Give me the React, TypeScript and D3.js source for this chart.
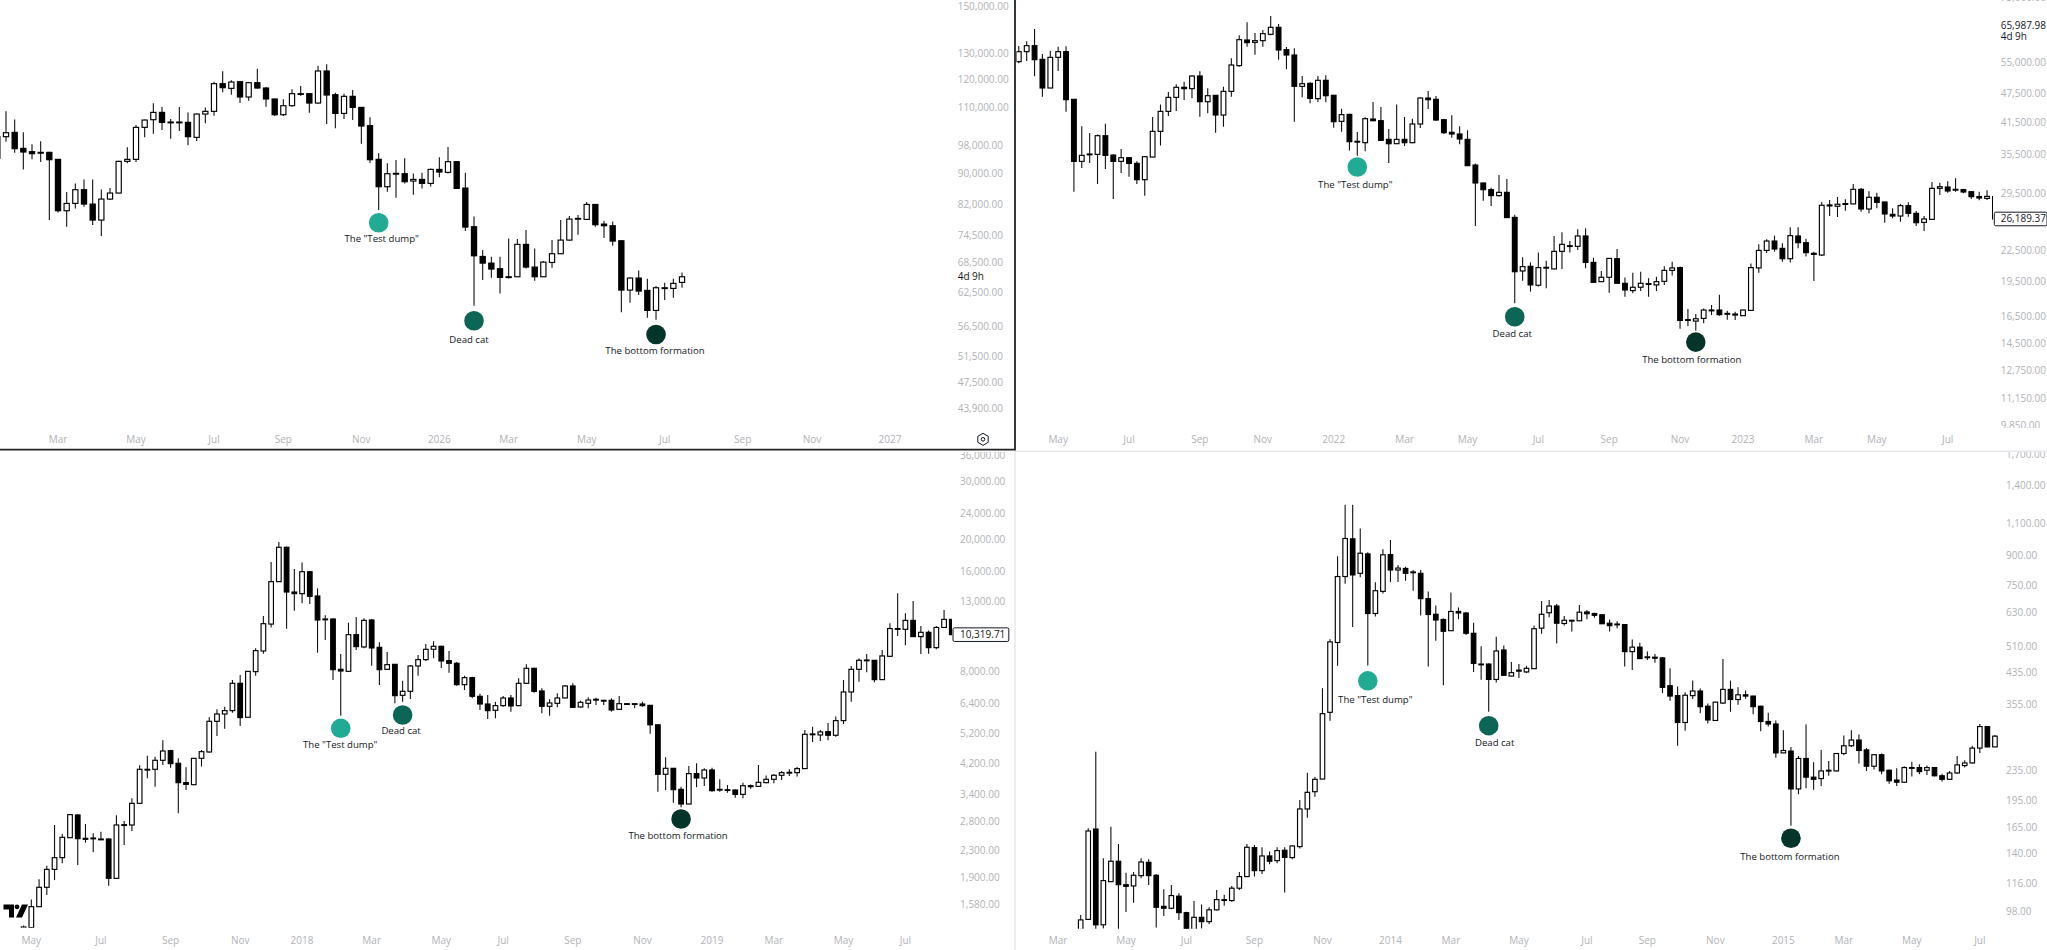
import React, { useEffect, useRef } from 'react';
import * as d3 from 'd3';

// every candle is [open, high, low, close]
type Candle = [number, number, number, number];

const candles2025: Candle[] = [
  [94300,101250,94000,100740],[100740,108840,99210,101970],[102080,106200,95930,97120],[97210,102080,91160,96130],
  [96230,98410,94000,95640],[96030,99320,93240,95930],[96030,96230,78090,93900],[94000,94100,79940,80350],
  [80350,85080,76520,82170],[82170,87350,80920,85680],[85680,88420,81340,82000],[82000,88420,76910,78090],
  [78090,85760,74360,83260],[83260,86110,83010,84810],[84810,93620,84720,93430],[93430,97510,92860,94000],
  [94000,104390,93240,103650],[103650,106200,100530,105990],[106100,111530,101670,108500],[108500,110290,102810,105240],
  [105350,106310,100130,105240],[105350,110290,102500,105240],[105240,108500,98110,100740],[100530,108170,99420,107950],
  [107950,110170,104920,108840],[108840,119160,107400,118440],[118440,122990,115340,117000],[116760,119650,114530,119040],
  [119160,119400,111640,113720],[113720,119040,112440,118800],[118800,124000,116640,116880],[116880,117240,110400,113030],
  [113030,113150,107300,107730],[107730,112900,107300,110740],[110740,116410,110400,114880],[114880,117600,114180,114650],
  [114880,114880,108390,111640],[111640,125130,111420,123120],[123120,125640,104710,114410],[114530,115230,103330,108170],
  [108170,114880,106310,113950],[113950,116170,105990,110170],[110170,110290,98610,104070],[104180,106860,92950,93900],
  [94000,95740,80510,86460],[86460,92860,85160,89970],[89970,93810,83610,90060],[89970,94290,87350,87800],
  [87970,90060,84380,88420],[88420,90240,86020,87350],[87350,91440,86550,91160],[91160,94580,88970,90430],
  [90340,97610,90060,93330],[93330,93430,85850,86020],[86110,90240,75510,76440],[76520,78970,60110,70020],
  [69880,71250,65020,68470],[68470,69810,65480,67240],[67310,69810,62420,65550],[65680,73830,65350,65550],
  [65680,73680,65610,72500],[72500,75740,67380,67650],[67650,71610,64890,65680],[65680,68890,65610,68680],
  [68610,73460,67510,70460],[70460,78090,70390,73460],[73460,79050,73310,78330],[78330,79300,74670,78490],
  [78250,82500,78090,81910],[81910,82000,76520,76990],[77140,77930,73910,76750],[76750,77780,72200,73240],
  [73310,73460,58950,63060],[63060,65550,60660,65420],[65420,66960,62100,62870],[63000,65280,57950,59260],
  [59260,63830,57600,63510],[63440,64490,61160,63510],[63380,65280,61600,64360],[64560,66550,63510,65680],
];

const candles2021: Candle[] = [
  [55260,59530,54830,57950],[57950,60860,55440,59620],[59620,64540,51550,55790],[55880,57310,46800,48770],
  [48770,58230,48690,56410],[56410,59340,52870,57950],[57950,59430,43580,46140],[46220,46290,29810,34430],
  [34430,40650,33360,35420],[35530,39390,34160,35650],[35590,39130,30920,38890],[38890,41170,33200,35420],
  [35470,35590,28800,34430],[34430,36500,32570,35030],[35030,35090,32010,34100],[34100,34430,30920,31560],
  [31560,35310,29260,35200],[35140,42490,35090,39700],[39700,45120,37140,43650],[43650,47850,42700,46650],
  [46650,49630,43720,48930],[48930,50260,46070,48620],[48620,51800,46430,51630],[51630,52780,42560,45700],
  [45700,48700,43240,47020],[47100,47170,39450,42900],[42900,49080,40590,48000],[48000,56140,46800,54400],
  [54230,62620,53970,61340],[61250,66600,59340,60480],[60570,63320,57130,61060],[61060,64230,59340,63120],
  [62920,68630,62620,65050],[65050,66080,55790,58410],[58500,59250,53290,57040],[57040,58870,41560,49160],
  [49160,51630,46650,49780],[49860,50100,45340,46430],[46360,51630,45630,50580],[50580,51800,45560,47020],
  [47100,47250,40400,41560],[41630,44210,39640,42970],[43030,43170,36270,37800],[37800,39580,35370,37860],
  [37620,42430,36100,42160],[42090,45630,41630,41760],[41760,44560,37980,38040],[38220,40140,34160,37440],
  [37440,45120,37380,38220],[38220,42490,37030,37620],[37620,42160,37500,41110],[41110,46650,40340,46500],
  [46500,48080,44140,46140],[46220,46950,41760,41890],[41960,42030,39200,39450],[39520,42830,38530,39200],
  [39200,40650,37320,38280],[38220,39890,33670,33730],[33830,34100,25330,31070],[31070,31120,28570,30100],
  [30100,30380,27860,29260],[29260,32260,29120,29720],[29720,31660,26310,26360],[26390,26730,17550,20390],
  [20460,21830,19530,20890],[20920,21310,18550,19150],[19120,22350,19000,20790],[20760,21480,18850,20820],
  [20660,24160,20630,22460],[22460,24590,20660,23220],[23030,23590,22350,23070],[23000,24940,22600,24160],
  [24160,25050,20720,21310],[21310,21790,19360,19390],[19450,20460,19420,19860],[19860,21720,18460,21720],
  [21690,22710,19270,19300],[19300,19830,18110,18700],[18640,20300,18400,18940],[18940,20390,18610,19300],
  [19210,19760,18110,19270],[19150,19920,18610,19450],[19480,20920,19150,20520],[20520,21380,20030,20760],
  [20790,20890,15560,16180],[16240,17080,15740,16180],[16130,16680,15410,16310],[16340,17130,15960,17000],
  [16950,17410,16600,17000],[17000,18280,16550,16630],[16730,16950,16240,16680],[16680,16870,16210,16600],
  [16550,17050,16520,17000],[16970,21210,16950,20790],[20760,23220,20300,22560],[22560,23780,22280,23590],
  [23590,24200,22420,22710],[22780,23330,21380,21690],[21690,25170,21310,24200],[24160,25170,22780,23400],
  [23400,23850,21930,22320],[22250,22420,19510,22140],[22070,28390,21970,27950],[27860,28660,26560,28000],
  [27820,29070,26440,28090],[28090,28750,27240,28170],[28130,30920,28090,30150],[30150,30330,27110,27460],
  [27460,29860,26900,29030],[29030,29670,27550,28340],[28390,28430,25730,26820],[26770,27550,26270,26560],
  [26560,28130,25850,27900],[27900,28340,26480,26900],[26900,27200,25330,25730],[25770,26560,24740,26190],
  [26140,31210,26100,30290],[30290,31120,29350,30530],[30480,31310,29670,29910],[30150,31760,29810,30050],
  [30100,30240,29580,29770],[29810,29910,28800,29120],[29120,29810,28620,28930],[28880,30000,28660,29160],
  [29120,29120,26189.37,26189.37],
];

const candles2017: Candle[] = [
  [1200,1360,1180,1346],[1340,1631,1300,1551],[1551,1876,1551,1775],[1775,2063,1682,2011],
  [2011,2740,1867,2182],[2182,2573,2098,2514],[2508,2945,2508,2945],[2938,2951,2073,2491],
  [2497,2759,2422,2480],[2497,2585,2264,2502],[2485,2615,2468,2480],[2485,2497,1795,1889],
  [1889,2931,1885,2740],[2740,2818,2383,2746],[2740,3299,2628,3186],[3186,4153,3179,4039],
  [4030,4442,3794,4039],[4039,4411,3578,4300],[4300,4943,4163,4588],[4599,4631,4086,4201],
  [4211,4360,2972,3680],[3680,4096,3496,3636],[3628,4360,3620,4360],[4360,4620,4115,4567],
  [4557,5803,4536,5643],[5643,6134,5095,5938],[5938,6249,5362,6078],[6078,7525,5994,7353],
  [7353,7792,5463,5790],[5803,8012,5790,7993],[7975,9384,7756,9232],[9211,11750,9041,11140],
  [11110,17120,10840,14930],[14930,19680,14890,18970],[18970,19060,10760,13890],[13890,16300,12190,13730],
  [13730,17070,12840,16000],[16000,16090,12780,13480],[13510,14250,9104,11430],[11460,11810,9945,11510],
  [11510,11560,7525,8087],[8106,9020,5870,8011],[7993,11220,7975,10320],[10320,11670,9275,9494],
  [9472,11560,9384,11400],[11430,11510,8315,9406],[9449,9785,7268,8087],[8106,9147,8068,8374],
  [8393,8413,6396,6747],[6763,7490,6471,6954],[6954,8355,6592,8297],[8297,8958,7756,8671],
  [8671,9672,8591,9319],[9319,9854,8752,9516],[9516,9560,8182,8591],[8611,9211,7920,8452],
  [8452,8532,7235,7285],[7285,7756,7019,7649],[7649,7702,6623,6716],[6716,6842,6106,6366],
  [6366,6779,5733,6078],[6092,6471,5762,6293],[6293,6732,6249,6638],[6638,6779,6036,6278],
  [6293,7613,6293,7353],[7353,8393,7353,8163],[8163,8201,6890,6954],[6970,7100,5966,6264],
  [6264,6577,5870,6411],[6396,6858,6220,6638],[6638,7268,6623,7218],[7218,7353,6191,6220],
  [6235,6516,6205,6441],[6396,6669,6177,6546],[6577,6654,6322,6546],[6531,6546,6322,6516],
  [6531,6623,6036,6106],[6134,6732,6106,6381],[6366,6396,6322,6381],[6366,6396,6177,6381],
  [6366,6471,6249,6293],[6307,6322,5178,5507],[5507,5519,3456,3901],[3901,4389,3496,4067],
  [4067,4067,3201,3504],[3512,3578,3098,3171],[3171,4134,3164,3919],[3919,4211,3562,3802],
  [3802,4067,3595,4020],[4020,4086,3456,3480],[3504,3767,3456,3512],[3496,3620,3432,3504],
  [3496,3512,3314,3392],[3392,3680,3299,3603],[3603,3636,3529,3578],[3586,4163,3578,3688],
  [3680,3865,3662,3767],[3767,3910,3662,3874],[3874,3992,3750,3946],[3946,4039,3856,3955],
  [3946,4105,3838,4058],[4058,5312,4049,5155],[5143,5437,4885,5167],[5131,5312,4920,5239],
  [5250,5578,4943,5119],[5119,5830,5071,5669],[5669,7525,5539,6922],[6922,8297,6471,8106],
  [8106,8752,7439,8631],[8631,9020,7938,8651],[8631,8651,7405,7543],[7543,9275,7525,8897],
  [8875,11170,8854,10770],[10770,13760,10230,10710],[10710,11970,9581,11400],[11400,13050,10150,10180],
  [10180,10970,9020,10490],[10490,10630,9041,9427],[9427,10970,9319,10850],[10850,12250,10840,11480],
  [11480,11480,10319.71,10319.71],
];

const candles2013: Candle[] = [
  [80,95.6,78,92.7],[93,164.2,92.7,161.5],[163.5,265,87.1,89.9],[89.9,136.2,87.8,118.5],
  [117.7,165.9,117.7,133.7],[133.7,149,87.1,115.5],[115.5,124.5,97.4,114.3],[114.6,125,103.2,122.5],
  [122.2,136.2,120.2,133.1],[132.8,135.4,115.3,122.2],[122.5,123.5,88.4,100.3],[100.9,112.3,95,99.7],
  [99.7,115.3,99.1,107.9],[107.5,109.5,92.7,97],[97,97.6,86.2,87.1],[87.1,104.3,86.2,94.2],
  [94.2,102,87.8,91.7],[91.7,100.3,90.2,98.7],[98.7,111.8,98.3,105.2],[105,108.4,101.3,105.2],
  [104.6,114.6,103.9,113],[113,125,111.8,121.5],[121.5,149,121.2,145.9],[145.6,148,121.5,126.1],
  [126.1,145.9,123.5,138.2],[138.2,142,131.2,133.7],[134.2,145.9,132,142.9],[143.2,145.9,110,137],
  [136.8,147.7,135.4,147.1],[146.5,196,144.7,185.3],[185.3,232.4,175.5,205.6],[206.4,226.2,200.1,223],
  [223.4,394,223,336],[338.8,535,321.7,526],[524,898,453,791],[791,1239,756,1003],
  [1001,1239,577,799],[807,1067,787,915],[911,921,454,628],[628,763,616,724],
  [721,938,712,906],[907,994,764,824],[824,850,764,834],[832,841,770,807],
  [814,824,724,810],[807,824,620,689],[689,720,451,624],[625,660,530,603],
  [605,609,401,562],[564,716,563,636],[636,652,606,630],[630,634,549,555],
  [555,593,436,460],[456,512,415,458],[458,460,340,416],[416,543,408,497],
  [500,514,425,427],[425,464,424,434],[438,458,420,441],[436,453,433,446],
  [445,583,445,571],[573,679,553,625],[631,683,613,658],[658,666,521,591],
  [590,618,583,602],[601,603,561,602],[600,662,599,633],[634,642,606,627],
  [628,631,612,621],[623,625,588,589],[591,605,561,582],[588,598,573,586],
  [586,588,451,495],[495,534,441,509],[509,523,472,474],[477,495,470,479],
  [478,488,462,475],[476,478,382,396],[400,446,364,375],[376,398,275,318],
  [318,384,302,377],[376,413,368,387],[387,393,337,351],[352,358,316,323],
  [322,362,321,361],[359,473,357,391],[391,413,340,367],[367,396,355,378],
  [378,388,369,375],[375,376,335,351],[352,353,301,320],[320,338,310,315],
  [315,322,255,263],[263,303,263,267],[266,273,167,210],[210,258,203,254],
  [254,314,211,226],[226,248,209,223],[224,268,214,235],[235,250,228,236],
  [235,263,234,262],[262,293,259,275],[275,303,273,285],[285,295,246,267],
  [268,271,235,242],[242,261,237,260],[260,262,230,235],[236,237,217,221],
  [222,239,214,219],[219,242,218,240],[239,249,227,240],[240,245,230,234],
  [236,243,229,240],[240,241,227,228],[228,231,220,223],[223,235,222,232],
  [232,258,231,244],[243,251,240,247],[247,275,246,271],[271,315,263,310],
  [310,310,272,273],[273,294,273,292],
];

// price axis labels
const ticks2025 = [150000,130000,120000,110000,98000,90000,82000,74500,68500,62500,56500,51500,47500,43900];
const ticks2021 = [75000,55000,47500,41500,35500,29500,22500,19500,16500,14500,12750,11150,9850];
const ticks2017 = [36000,30000,24000,20000,16000,13000,8000,6400,5200,4200,3400,2800,2300,1900,1580];
const ticks2013 = [1700,1400,1100,900,750,630,510,435,355,235,195,165,140,116,98];

// time axis labels, placed on the candle they belong to
const months2025: [number, string][] = [[7,'Mar'],[16,'May'],[25,'Jul'],[33,'Sep'],[42,'Nov'],[51,'2026'],[59,'Mar'],[68,'May'],[77,'Jul'],[86,'Sep'],[94,'Nov'],[103,'2027']];
const months2021: [number, string][] = [[5,'May'],[14,'Jul'],[23,'Sep'],[31,'Nov'],[40,'2022'],[49,'Mar'],[57,'May'],[66,'Jul'],[75,'Sep'],[84,'Nov'],[92,'2023'],[101,'Mar'],[109,'May'],[118,'Jul']];
const months2017: [number, string][] = [[1,'May'],[10,'Jul'],[19,'Sep'],[28,'Nov'],[36,'2018'],[45,'Mar'],[54,'May'],[62,'Jul'],[71,'Sep'],[80,'Nov'],[89,'2019'],[97,'Mar'],[106,'May'],[114,'Jul']];
const months2013: [number, string][] = [[-3,'Mar'],[6,'May'],[14,'Jul'],[23,'Sep'],[32,'Nov'],[41,'2014'],[49,'Mar'],[58,'May'],[67,'Jul'],[75,'Sep'],[84,'Nov'],[93,'2015'],[101,'Mar'],[110,'May'],[119,'Jul']];

const TEST_DUMP = 'The "Test dump"';
const DEAD_CAT = 'Dead cat';
const BOTTOM = 'The bottom formation';
const noteColors: Record<string, string> = { [TEST_DUMP]: '#22ab94', [DEAD_CAT]: '#0b6655', [BOTTOM]: '#05342b' };

// candle index, price of the dot, text, text offset from the dot
const notes2025: [number, number, string, number, number][] = [[44,77460,TEST_DUMP,3,16],[55,57420,DEAD_CAT,-5,18.5],[76,55060,BOTTOM,-1,16.5]];
const notes2021: [number, number, string, number, number][] = [[43,33520,TEST_DUMP,-2,18],[63,16470,DEAD_CAT,-2.5,16.5],[86,14600,BOTTOM,-4,18]];
const notes2017: [number, number, string, number, number][] = [[41,5374,TEST_DUMP,-0.5,16.5],[49,5898,DEAD_CAT,-1.5,15.5],[85,2857,BOTTOM,-3,17]];
const notes2013: [number, number, string, number, number][] = [[38,412.5,TEST_DUMP,7.5,19],[54,311.7,DEAD_CAT,6,16.5],[94,154.3,BOTTOM,-1,18]];

const AXIS_COLOR = '#b0b2b6';
const FONT = '"Open Sans", sans-serif';

interface PanelConfig {
  id: string;
  candles: Candle[];
  ticks: number[];
  months: [number, string][];
  notes: [number, number, string, number, number][];
  x0: number;
  step: number;
  priceTop: number;
  priceBottom: number;
  yTop: number;
  yBottom: number;
  plot: [number, number, number, number]; // left, top, right, bottom
  axisX: number;
  axisClip: [number, number];
  timeY: number;
  lastPrice?: [number, number, number]; // price, box left, box right
}

const panels: PanelConfig[] = [
  { id: 'p1', candles: candles2025, ticks: ticks2025, months: months2025, notes: notes2025,
    x0: -2.667, step: 8.667, priceTop: 150000, priceBottom: 43900, yTop: 6.33, yBottom: 408.67,
    plot: [0, 0, 950, 430], axisX: 957.7, axisClip: [0, 449], timeY: 439.3 },
  { id: 'p2', candles: candles2021, ticks: ticks2021, months: months2021, notes: notes2021,
    x0: 1018.8, step: 7.872, priceTop: 55000, priceBottom: 9850, yTop: 62.67, yBottom: 425,
    plot: [1016.5, 0, 1993, 430], axisX: 2000.7, axisClip: [0, 428], timeY: 439.3,
    lastPrice: [26189.37, 1994.3, 2047] },
  { id: 'p3', candles: candles2017, ticks: ticks2017, months: months2017, notes: notes2017,
    x0: 23.6, step: 7.735, priceTop: 36000, priceBottom: 1580, yTop: 455.33, yBottom: 904,
    plot: [0, 452, 952, 927.7], axisX: 960.1, axisClip: [452, 950], timeY: 940.7,
    lastPrice: [10319.71, 953, 1008.8] },
  { id: 'p4', candles: candles2013, ticks: ticks2013, months: months2013, notes: notes2013,
    x0: 1080.67, step: 7.556, priceTop: 1700, priceBottom: 98, yTop: 454, yBottom: 911,
    plot: [1016.5, 452, 2000, 928.7], axisX: 2006, axisClip: [452, 950], timeY: 940.7 },
];

function drawPanel(svg: d3.Selection<SVGSVGElement, unknown, null, undefined>, p: PanelConfig) {
  const x = d3.scaleLinear().domain([0, 1]).range([p.x0, p.x0 + p.step]);
  const y = d3.scaleLog().domain([p.priceTop, p.priceBottom]).range([p.yTop, p.yBottom]);
  const [left, top, right, bottom] = p.plot;
  const bodyWidth = p.step * 0.6;

  const defs = svg.append('defs');
  defs.append('clipPath').attr('id', `${p.id}-plot`).append('rect')
    .attr('x', left).attr('y', top).attr('width', right - left).attr('height', bottom - top);
  defs.append('clipPath').attr('id', `${p.id}-axis`).append('rect')
    .attr('x', p.axisX - 10).attr('y', p.axisClip[0]).attr('width', 120).attr('height', p.axisClip[1] - p.axisClip[0]);

  const g = svg.append('g').attr('clip-path', `url(#${p.id}-plot)`);

  // wicks
  g.selectAll('line.wick').data(p.candles).enter().append('line')
    .attr('class', 'wick')
    .attr('x1', (_, i) => x(i)).attr('x2', (_, i) => x(i))
    .attr('y1', d => y(d[1])).attr('y2', d => y(d[2]))
    .attr('stroke', '#111').attr('stroke-width', 1.1);

  // bodies, white when the close is above the open
  g.selectAll('rect.body').data(p.candles).enter().append('rect')
    .attr('class', 'body')
    .attr('x', (_, i) => x(i) - bodyWidth / 2)
    .attr('width', bodyWidth)
    .attr('y', d => y(Math.max(d[0], d[3])))
    .attr('height', d => Math.max(y(Math.min(d[0], d[3])) - y(Math.max(d[0], d[3])), 0.8))
    .attr('fill', d => (d[3] >= d[0] ? '#fff' : '#000'))
    .attr('stroke', '#000').attr('stroke-width', 1.15);

  // dots with their texts
  const notes = svg.append('g');
  notes.selectAll('circle').data(p.notes).enter().append('circle')
    .attr('cx', d => x(d[0])).attr('cy', d => y(d[1])).attr('r', 9.8)
    .attr('fill', d => noteColors[d[2]]);
  notes.selectAll('text').data(p.notes).enter().append('text')
    .attr('x', d => x(d[0]) + d[3]).attr('y', d => y(d[1]) + d[4])
    .attr('dy', '0.35em').attr('text-anchor', 'middle')
    .style('font-family', FONT).style('font-size', '9.6px').attr('fill', '#131722')
    .text(d => d[2]);

  // price axis
  svg.append('g').attr('clip-path', `url(#${p.id}-axis)`)
    .selectAll('text').data(p.ticks).enter().append('text')
    .attr('x', p.axisX).attr('y', d => y(d)).attr('dy', '0.35em')
    .style('font-family', FONT).style('font-size', '10px').attr('fill', AXIS_COLOR)
    .text(d => d3.format(',.2f')(d));

  // time axis
  svg.append('g').selectAll('text').data(p.months).enter().append('text')
    .attr('x', d => x(d[0])).attr('y', p.timeY).attr('dy', '0.35em').attr('text-anchor', 'middle')
    .style('font-family', FONT).style('font-size', '10px').attr('fill', AXIS_COLOR)
    .text(d => d[1]);

  // boxed last price
  if (p.lastPrice) {
    const [price, boxLeft, boxRight] = p.lastPrice;
    svg.append('rect')
      .attr('x', boxLeft).attr('y', y(price) - 6.8).attr('width', boxRight - boxLeft).attr('height', 13.6)
      .attr('rx', 1.5).attr('fill', '#fff').attr('stroke', '#131722').attr('stroke-width', 1);
    svg.append('text')
      .attr('x', p.axisX).attr('y', y(price)).attr('dy', '0.35em')
      .style('font-family', FONT).style('font-size', '10px').attr('fill', '#131722')
      .text(d3.format(',.2f')(price));
  }
}

export default function App() {
  const svgRef = useRef<SVGSVGElement>(null);

  useEffect(() => {
    if (!svgRef.current) return;
    const svg = d3.select(svgRef.current);
    svg.selectAll('*').remove();

    svg.append('rect').attr('width', 2047).attr('height', 950).attr('fill', '#fff');

    panels.forEach(p => drawPanel(svg, p));

    // countdown and live price texts
    const small = (px: number, py: number, t: string) => svg.append('text')
      .attr('x', px).attr('y', py).attr('dy', '0.35em')
      .style('font-family', FONT).style('font-size', '10px').attr('fill', '#131722').text(t);
    small(957.7, 276.7, '4d 9h');
    small(2000.7, 25, '65,987.98');
    small(2000.7, 36.7, '4d 9h');

    // panel separators
    svg.append('line').attr('x1', 1015).attr('x2', 2047).attr('y1', 451.3).attr('y2', 451.3)
      .attr('stroke', '#e6e7ea').attr('stroke-width', 1.5);
    svg.append('line').attr('x1', 1015).attr('x2', 1015).attr('y1', 451).attr('y2', 950)
      .attr('stroke', '#e6e7ea').attr('stroke-width', 1.5);
    svg.append('path').attr('d', 'M0,449.7H1015V0').attr('fill', 'none')
      .attr('stroke', '#222').attr('stroke-width', 1.8);

    // settings icon
    const gear = svg.append('g').attr('transform', 'translate(983,439.3)');
    gear.append('path').attr('d', d3.line()(d3.range(6).map(k => {
      const a = (Math.PI / 3) * k + Math.PI / 6;
      return [6 * Math.cos(a), 6 * Math.sin(a)] as [number, number];
    })) + 'Z').attr('fill', 'none').attr('stroke', '#131722').attr('stroke-width', 1);
    gear.append('circle').attr('r', 1.8).attr('fill', 'none').attr('stroke', '#131722').attr('stroke-width', 1);

    // logo
    const logo = svg.append('g').attr('fill', '#000');
    logo.append('path').attr('d', 'M3.5,904.5H14V917.5H9V909.5H3.5Z');
    logo.append('circle').attr('cx', 17).attr('cy', 906.8).attr('r', 2.4);
    logo.append('path').attr('d', 'M22,904.5H28L22,917.5H16Z');
  }, []);

  return (
    <svg
      ref={svgRef}
      width={2047}
      height={950}
      viewBox="0 0 2047 950"
      style={{ position: 'fixed', left: 0, top: 0, display: 'block' }}
    />
  );
}
